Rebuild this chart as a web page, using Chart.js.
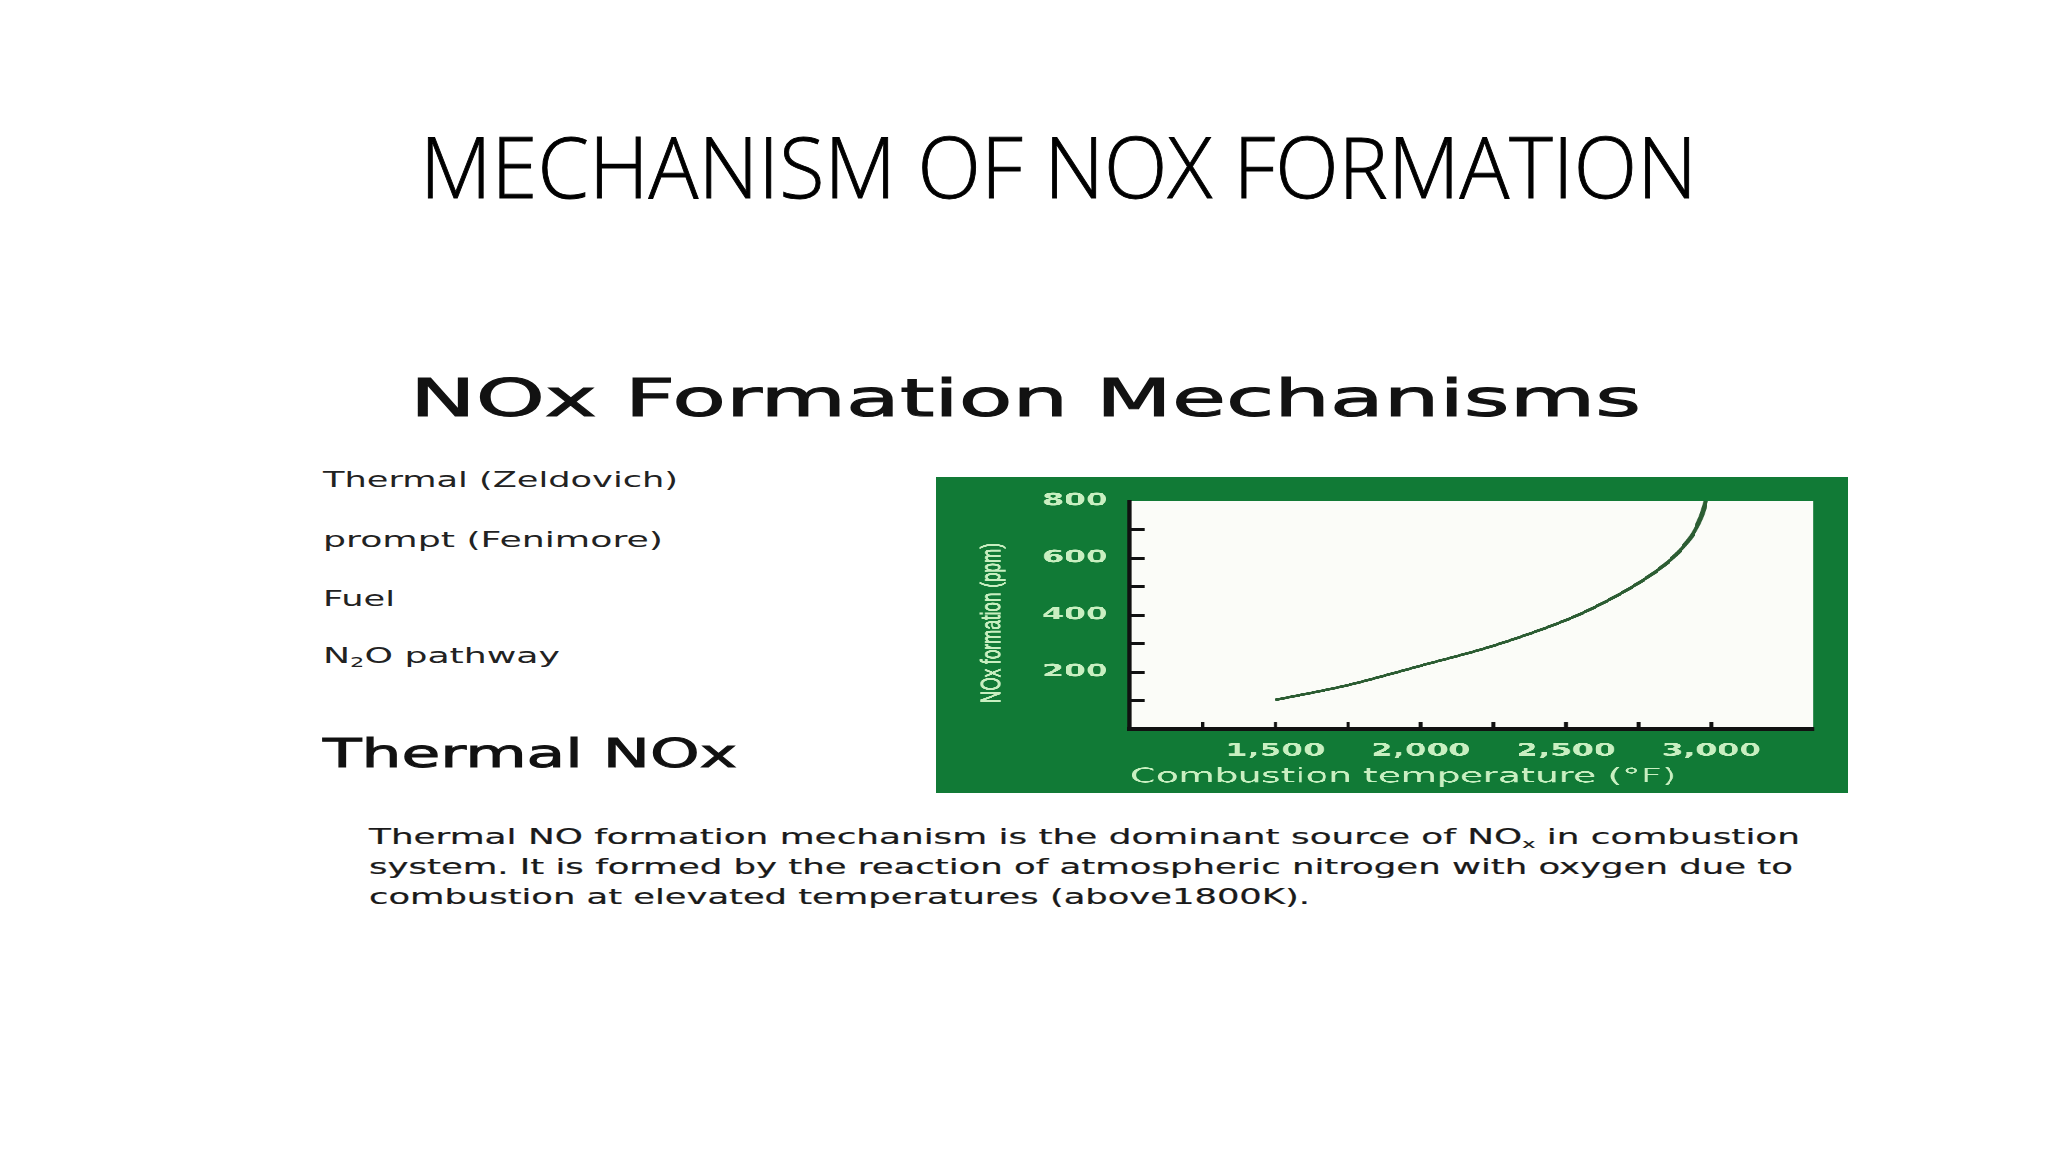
<!DOCTYPE html>
<html>
<head>
<meta charset="utf-8">
<script src="https://cdn.jsdelivr.net/npm/chart.js@4.4.1/dist/chart.umd.min.js"></script>
<style>
  html, body { margin: 0; padding: 0; background: #ffffff; }
  #page { position: relative; width: 2048px; height: 1152px; overflow: hidden; background: #ffffff; }
  .t { position: absolute; white-space: nowrap; line-height: 1; transform-origin: 0 0; color: #111; }
  .dv { font-family: "DejaVu Sans", Verdana, sans-serif; }
  sub { font-size: 0.62em; vertical-align: -0.28em; line-height: 0; }
  #panel { position: absolute; left: 936px; top: 477px; height: 316px; transform-origin: 0 0; background: #117a36; }
</style>
</head>
<body>
<div id="page">
  <div class="t" id="title" style="left:420px; top:123px; font-family:'Open Sans', Lato, sans-serif; font-weight:300; font-size:85px; color:#000; -webkit-text-stroke:0.9px #000;">MECHANISM OF NOX FORMATION</div>
  <div class="t dv" id="sub" style="left:410px; top:372px; font-size:52px; color:#121212; -webkit-text-stroke:1px #121212;">NOx Formation Mechanisms</div>
  <div class="t dv" id="li1" style="left:323px; top:469px; font-size:22px; color:#222;">Thermal (Zeldovich)</div>
  <div class="t dv" id="li2" style="left:323px; top:529px; font-size:22px; color:#222;">prompt (Fenimore)</div>
  <div class="t dv" id="li3" style="left:323px; top:588px; font-size:22px; color:#222;">Fuel</div>
  <div class="t dv" id="li4" style="left:323px; top:645px; font-size:22px; color:#222;">N<sub>2</sub>O pathway</div>
  <div class="t dv" id="h2" style="left:323px; top:735px; font-size:38.5px; color:#111; -webkit-text-stroke:0.9px #111;">Thermal NOx</div>
  <div class="t dv" id="p1" style="left:369px; top:827px; font-size:20.5px; color:#1a1a1a; -webkit-text-stroke:0.2px #1a1a1a;">Thermal NO formation mechanism is the dominant source of NO<sub>x</sub> in combustion</div>
  <div class="t dv" id="p2" style="left:369px; top:857px; font-size:20.5px; color:#1a1a1a; -webkit-text-stroke:0.2px #1a1a1a;">system. It is formed by the reaction of atmospheric nitrogen with oxygen due to</div>
  <div class="t dv" id="p3" style="left:369px; top:887px; font-size:20.5px; color:#1a1a1a; -webkit-text-stroke:0.2px #1a1a1a;">combustion at elevated temperatures (above1800K).</div>
  <div id="panel"><canvas id="chart"></canvas></div>
</div>
<script>
// ---- data ----
const temperatureF = [1500, 1750, 2000, 2250, 2500, 2600, 2700, 2780, 2850, 2900, 2940, 2965, 2977, 2981];
const noxPpm       = [102, 154, 222, 292, 382, 428, 482, 532, 585, 635, 690, 745, 785, 800];
const xTickValues  = [1250, 1500, 1750, 2000, 2250, 2500, 2750, 3000];
const xLabelValues = [1500, 2000, 2500, 3000];
const yTickValues  = [100, 200, 300, 400, 500, 600, 700, 800];
const yLabelValues = [200, 400, 600, 800];
const xAxisTitle = 'Combustion temperature (°F)';
const yAxisTitle = 'NOx formation (ppm)';

// ---- layout of the green panel (horizontally stretched canvas) ----
const S = 1.85;
const PANEL_W = 912, PANEL_H = 316;
const canvasW = PANEL_W / S;
const panel = document.getElementById('panel');
panel.style.width = canvasW + 'px';
panel.style.transform = 'scaleX(' + S + ')';

const GREEN = '#117a36';
const PALE = '#c9efc1';

const bgPlugin = {
  id: 'bg',
  beforeDraw(chart) {
    const {ctx, chartArea: a} = chart;
    ctx.save();
    ctx.fillStyle = GREEN;
    ctx.fillRect(0, 0, chart.width, chart.height);
    ctx.fillStyle = '#fbfcf8';
    ctx.fillRect(a.left, a.top, a.right - a.left, a.bottom - a.top);
    ctx.restore();
  }
};

const yTitlePlugin = {
  id: 'ytitle',
  afterDraw(chart) {
    const {ctx, chartArea: a} = chart;
    ctx.save();
    ctx.translate(64 / S, (a.top + a.bottom) / 2 + 8);
    ctx.scale(1 / S, 1);
    ctx.rotate(-Math.PI / 2);
    ctx.font = '27px "Liberation Sans", Arial, sans-serif';
    const w = ctx.measureText(yAxisTitle).width;
    ctx.scale(160 / w, 1);
    ctx.fillStyle = PALE;
    ctx.strokeStyle = PALE;
    ctx.lineWidth = 0.8;
    ctx.textAlign = 'center';
    ctx.textBaseline = 'alphabetic';
    ctx.fillText(yAxisTitle, 0, 0);
    ctx.strokeText(yAxisTitle, 0, 0);
    ctx.restore();
  }
};

const tickFont = {family: '"DejaVu Sans", Verdana, sans-serif', size: 17, weight: 'bold'};

new Chart(document.getElementById('chart'), {
  type: 'line',
  data: {
    datasets: [{
      data: temperatureF.map((t, i) => ({x: t, y: noxPpm[i]})),
      borderColor: '#2c5d33',
      borderWidth: 2.6,
      pointRadius: 0,
      fill: false,
      cubicInterpolationMode: 'monotone'
    }]
  },
  options: {
    responsive: true,
    maintainAspectRatio: false,
    animation: false,
    devicePixelRatio: 3,
    layout: { padding: { left: 0, right: (PANEL_W - 877) / S, top: 24, bottom: 0 } },
    plugins: { legend: { display: false }, tooltip: { enabled: false } },
    scales: {
      x: {
        type: 'linear',
        min: 1000,
        max: 3350,
        afterBuildTicks: s => { s.ticks = xTickValues.map(v => ({value: v})); },
        afterFit: s => { s.height = PANEL_H - 252; s.paddingLeft = 0; s.paddingRight = 0; },
        ticks: {
          color: PALE,
          font: tickFont,
          padding: 19,
          maxRotation: 0,
          autoSkip: false,
          callback: v => xLabelValues.includes(v) ? v.toLocaleString('en-US') : ''
        },
        grid: { display: true, drawOnChartArea: false, drawTicks: true, tickLength: -7, tickWidth: 2, tickColor: '#111' },
        border: { display: true, color: '#111', width: 4 },
        title: {
          display: true, text: xAxisTitle, align: 'start', color: PALE,
          font: {family: '"DejaVu Sans", Verdana, sans-serif', size: 20},
          padding: {top: 0, bottom: 4}
        }
      },
      y: {
        type: 'linear',
        min: 0,
        max: 800,
        afterBuildTicks: s => { s.ticks = yTickValues.map(v => ({value: v})); },
        afterFit: s => { s.width = 194 / S; s.paddingTop = 0; s.paddingBottom = 0; },
        ticks: {
          color: PALE,
          font: tickFont,
          padding: 20,
          autoSkip: false,
          callback: v => yLabelValues.includes(v) ? String(v) : ''
        },
        grid: {
          display: true, drawOnChartArea: false, drawTicks: true, tickLength: -8, tickWidth: 3,
          tickColor: c => (c.tick && c.tick.value === 800) ? 'rgba(0,0,0,0)' : '#111'
        },
        border: { display: true, color: '#111', width: 4 / S },
        title: { display: false }
      }
    }
  },
  plugins: [bgPlugin, yTitlePlugin]
});

// ---- fit slide texts to their measured widths ----
const fits = [
  ['title', 1277], ['sub', 1231], ['li1', 355], ['li2', 340], ['li3', 72], ['li4', 237],
  ['h2', 414], ['p1', 1431], ['p2', 1424], ['p3', 941]
];
function fitAll() {
  fits.forEach(([id, w]) => {
    const el = document.getElementById(id);
    el.style.transform = 'none';
    const cw = el.getBoundingClientRect().width;
    el.style.transform = 'scaleX(' + (w / cw) + ')';
  });
}
fitAll();
if (document.fonts && document.fonts.ready) document.fonts.ready.then(fitAll);
</script>
</body>
</html>
